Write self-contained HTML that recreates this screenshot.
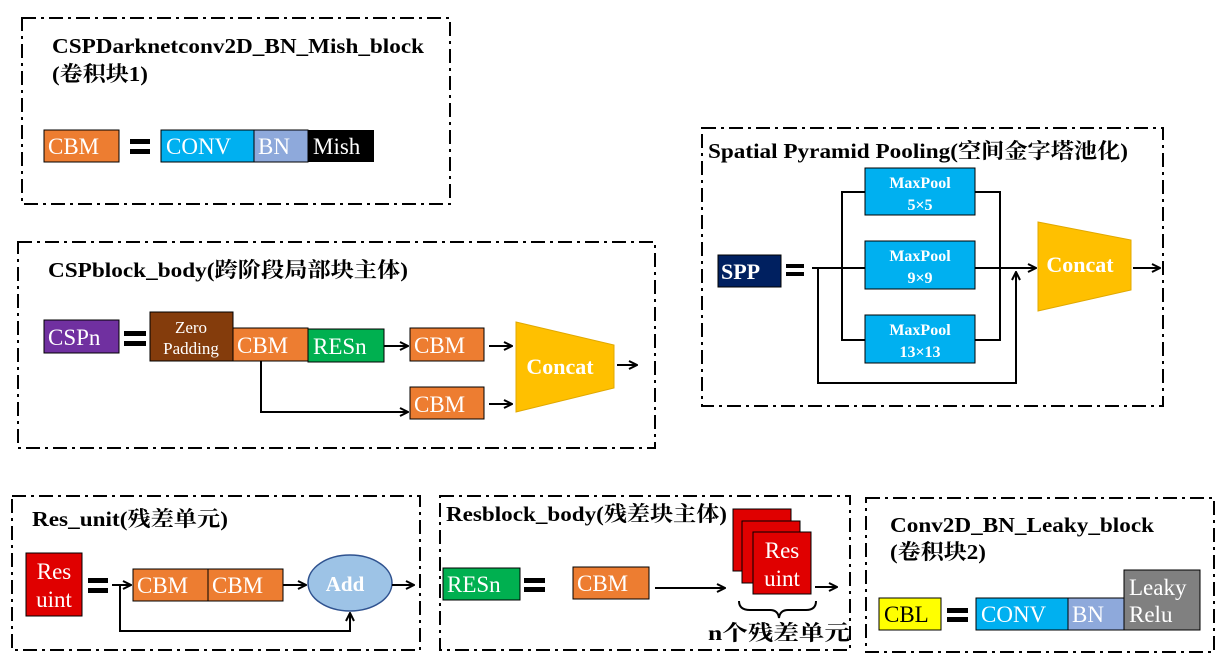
<!DOCTYPE html>
<html><head><meta charset="utf-8"><style>
body{margin:0;background:#fff}
svg{display:block}
text{font-family:"Liberation Serif","Noto Serif CJK SC","Noto Sans CJK SC",serif}
.t{font-weight:bold;font-size:21px;fill:#000}
.w{fill:#fff;font-size:23px}
.mp{fill:#fff;font-size:16px;font-weight:bold}
.pn{fill:none;stroke:#000;stroke-width:2;stroke-dasharray:14 5 3 5}
.ln{stroke:#000;stroke-width:2;fill:none}
</style></head><body>
<svg width="1223" height="670" viewBox="0 0 1223 670" xmlns="http://www.w3.org/2000/svg">
<defs><marker id="a" markerWidth="10" markerHeight="10" refX="9" refY="5" orient="auto" markerUnits="userSpaceOnUse"><path d="M1,1 L9,5 L1,9" fill="none" stroke="#000" stroke-width="2"/></marker></defs>

<!-- panel 1 -->
<rect class="pn" x="22" y="18" width="428" height="186"/>
<text class="t" x="52" y="53" textLength="372" lengthAdjust="spacingAndGlyphs">CSPDarknetconv2D_BN_Mish_block</text>
<text class="t" x="52" y="81" textLength="96" lengthAdjust="spacingAndGlyphs">(卷积块1)</text>
<rect x="44" y="130" width="75" height="32" fill="#ED7D31" stroke="#000"/><text class="w" x="48" y="154">CBM</text>
<rect x="130" y="139" width="20" height="5" fill="#000"/><rect x="130" y="149" width="20" height="5" fill="#000"/>
<rect x="161" y="130" width="93" height="32" fill="#00B0F0" stroke="#000"/><text class="w" x="166" y="154">CONV</text>
<rect x="254" y="130" width="54" height="32" fill="#8EA9DB" stroke="#000"/><text class="w" x="258" y="154">BN</text>
<rect x="308" y="130" width="66" height="32" fill="#000"/><text class="w" x="313" y="154">Mish</text>

<!-- panel 2 -->
<rect class="pn" x="18" y="242" width="637" height="206"/>
<text class="t" x="48" y="277" textLength="360" lengthAdjust="spacingAndGlyphs">CSPblock_body(跨阶段局部块主体)</text>
<rect x="44" y="320" width="75" height="33" fill="#7030A0" stroke="#000"/><text class="w" x="48" y="345">CSPn</text>
<rect x="124" y="331" width="22" height="5" fill="#000"/><rect x="124" y="341" width="22" height="5" fill="#000"/>
<rect x="150" y="312" width="83" height="49" fill="#843C0C" stroke="#000"/>
<text x="191" y="333" fill="#fff" font-size="17" text-anchor="middle">Zero</text><text x="191" y="354" fill="#fff" font-size="17" text-anchor="middle">Padding</text>
<rect x="233" y="328" width="75" height="33" fill="#ED7D31" stroke="#000"/><text class="w" x="237" y="353">CBM</text>
<rect x="308" y="329" width="76" height="33" fill="#00B050" stroke="#000"/><text class="w" x="313" y="354">RESn</text>
<line class="ln" x1="384" y1="346" x2="408" y2="346" marker-end="url(#a)"/>
<rect x="410" y="328" width="74" height="33" fill="#ED7D31" stroke="#000"/><text class="w" x="414" y="353">CBM</text>
<line class="ln" x1="489" y1="346" x2="512" y2="346" marker-end="url(#a)"/>
<polyline class="ln" points="261,361 261,412 408,412" marker-end="url(#a)"/>
<rect x="410" y="387" width="74" height="32" fill="#ED7D31" stroke="#000"/><text class="w" x="414" y="412">CBM</text>
<line class="ln" x1="489" y1="404" x2="512" y2="404" marker-end="url(#a)"/>
<polygon points="516,322 614,345 614,388 516,412" fill="#FFC000" stroke="#E0A800"/>
<text x="560" y="374" fill="#fff" font-size="22" font-weight="bold" text-anchor="middle">Concat</text>
<line class="ln" x1="617" y1="365" x2="637" y2="365" marker-end="url(#a)"/>

<!-- SPP -->
<rect class="pn" x="702" y="128" width="461" height="278"/>
<text class="t" x="708" y="158" textLength="420" lengthAdjust="spacingAndGlyphs">Spatial Pyramid Pooling(空间金字塔池化)</text>
<rect x="718" y="255" width="63" height="32" fill="#002060" stroke="#000"/><text x="721" y="279" fill="#fff" font-size="22" font-weight="bold">SPP</text>
<rect x="786" y="264" width="18" height="4" fill="#000"/><rect x="786" y="272" width="18" height="4" fill="#000"/>
<line class="ln" x1="812" y1="268" x2="1036" y2="268" marker-end="url(#a)"/>
<polyline class="ln" points="865,192 842,192 842,340 865,340"/>
<polyline class="ln" points="975,192 1000,192 1000,340 975,340"/>
<polyline class="ln" points="818,268 818,383 1016,383 1016,272" marker-end="url(#a)"/>
<rect x="865" y="168" width="110" height="47" fill="#00B0F0" stroke="#000"/><text class="mp" x="920" y="188" text-anchor="middle">MaxPool</text><text class="mp" x="920" y="210" text-anchor="middle">5×5</text>
<rect x="865" y="241" width="110" height="48" fill="#00B0F0" stroke="#000"/><text class="mp" x="920" y="261" text-anchor="middle">MaxPool</text><text class="mp" x="920" y="283" text-anchor="middle">9×9</text>
<rect x="865" y="315" width="110" height="48" fill="#00B0F0" stroke="#000"/><text class="mp" x="920" y="335" text-anchor="middle">MaxPool</text><text class="mp" x="920" y="357" text-anchor="middle">13×13</text>
<polygon points="1038,222 1131,240 1131,290 1038,311" fill="#FFC000" stroke="#E0A800"/>
<text x="1080" y="272" fill="#fff" font-size="22" font-weight="bold" text-anchor="middle">Concat</text>
<line class="ln" x1="1133" y1="268" x2="1160" y2="268" marker-end="url(#a)"/>

<!-- panel 4 -->
<rect class="pn" x="12" y="496" width="408" height="154"/>
<text class="t" x="32" y="526" textLength="196" lengthAdjust="spacingAndGlyphs">Res_unit(残差单元)</text>
<rect x="26" y="553" width="56" height="63" fill="#E00000" stroke="#000"/><text class="w" x="54" y="579" text-anchor="middle">Res</text><text class="w" x="54" y="607" text-anchor="middle">uint</text>
<rect x="88" y="578" width="20" height="5" fill="#000"/><rect x="88" y="588" width="20" height="5" fill="#000"/>
<line class="ln" x1="112" y1="585" x2="131" y2="585" marker-end="url(#a)"/>
<polyline class="ln" points="120,585 120,631 350,631 350,613" marker-end="url(#a)"/>
<rect x="133" y="569" width="75" height="32" fill="#ED7D31" stroke="#000"/><text class="w" x="137" y="593">CBM</text>
<rect x="208" y="569" width="75" height="32" fill="#ED7D31" stroke="#000"/><text class="w" x="212" y="593">CBM</text>
<line class="ln" x1="283" y1="585" x2="306" y2="585" marker-end="url(#a)"/>
<ellipse cx="350" cy="583" rx="42" ry="28" fill="#9DC3E6" stroke="#2F528F" stroke-width="1.5"/>
<text x="345" y="591" fill="#fff" font-size="21" font-weight="bold" text-anchor="middle">Add</text>
<line class="ln" x1="392" y1="585" x2="414" y2="585" marker-end="url(#a)"/>

<!-- panel 5 -->
<rect class="pn" x="440" y="496" width="410" height="154"/>
<text class="t" x="446" y="521" textLength="281" lengthAdjust="spacingAndGlyphs">Resblock_body(残差块主体)</text>
<rect x="443" y="568" width="77" height="32" fill="#00B050" stroke="#000"/><text class="w" x="447" y="592">RESn</text>
<rect x="524" y="578" width="21" height="5" fill="#000"/><rect x="524" y="587" width="21" height="5" fill="#000"/>
<rect x="573" y="567" width="76" height="32" fill="#ED7D31" stroke="#000"/><text class="w" x="577" y="591">CBM</text>
<line class="ln" x1="655" y1="588" x2="725" y2="588" marker-end="url(#a)"/>
<rect x="733" y="509" width="58" height="62" fill="#E00000" stroke="#000"/>
<rect x="742" y="521" width="58" height="62" fill="#E00000" stroke="#000"/>
<rect x="753" y="532" width="58" height="62" fill="#E00000" stroke="#000"/>
<text class="w" x="782" y="558" text-anchor="middle">Res</text><text class="w" x="782" y="586" text-anchor="middle">uint</text>
<line class="ln" x1="815" y1="587" x2="837" y2="587" marker-end="url(#a)"/>
<path d="M739,601 Q739,610 750,610 L770,610 Q778,610 779,618 Q780,610 788,610 L806,610 Q816,610 816,601" class="ln"/>
<text x="708" y="640" font-size="21" font-weight="bold" textLength="142" lengthAdjust="spacingAndGlyphs">n个残差单元</text>

<!-- panel 6 -->
<rect class="pn" x="866" y="498" width="348" height="154"/>
<text class="t" x="890" y="532" textLength="264" lengthAdjust="spacingAndGlyphs">Conv2D_BN_Leaky_block</text>
<text class="t" x="890" y="559" textLength="96" lengthAdjust="spacingAndGlyphs">(卷积块2)</text>
<rect x="879" y="598" width="62" height="32" fill="#FFFF00" stroke="#000"/><text x="884" y="622" font-size="23">CBL</text>
<rect x="947" y="608" width="21" height="5" fill="#000"/><rect x="947" y="617" width="21" height="5" fill="#000"/>
<rect x="976" y="598" width="92" height="32" fill="#00B0F0" stroke="#000"/><text class="w" x="981" y="622">CONV</text>
<rect x="1068" y="598" width="56" height="32" fill="#8EA9DB" stroke="#000"/><text class="w" x="1072" y="622">BN</text>
<rect x="1124" y="570" width="76" height="60" fill="#808080" stroke="#000"/><text class="w" x="1129" y="595">Leaky</text><text class="w" x="1129" y="622">Relu</text>
</svg>
</body></html>
